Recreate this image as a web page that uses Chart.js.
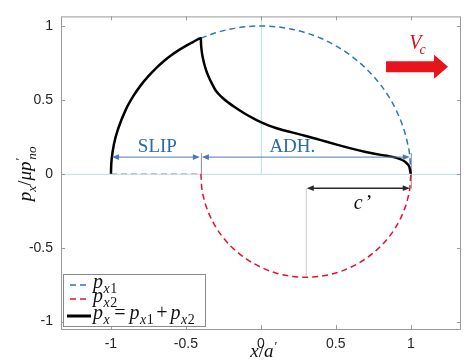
<!DOCTYPE html>
<html>
<head>
<meta charset="utf-8">
<script src="https://cdn.jsdelivr.net/npm/chart.js@4.4.1/dist/chart.umd.min.js"></script>
<style>
html, body { margin: 0; padding: 0; background: #fff; }
#wrap { width: 474px; height: 363px; }
</style>
</head>
<body>
<div id="wrap"><canvas id="chart"></canvas></div>
<script>
// values
const xTicks = [-1, -0.5, 0, 0.5, 1]
const yTicks = [-1, -0.5, 0, 0.5, 1]

// p_x (black): slip part, then adhesion part
const pxX = [-1, -0.998, -0.995, -0.98, -0.95, -0.9, -0.85, -0.8, -0.75, -0.7, -0.65, -0.6, -0.55, -0.5, -0.45, -0.4,
	-0.399, -0.397, -0.393, -0.388, -0.38, -0.37, -0.36, -0.34, -0.32, -0.3, -0.26, -0.22, -0.18, -0.14, -0.1, -0.05, 0,
	0.05, 0.1, 0.15, 0.2, 0.3, 0.4, 0.5, 0.6, 0.7, 0.8, 0.85, 0.885, 0.92, 0.95, 0.977, 0.991, 0.997, 1]
const pxY = [0, 0.06, 0.1, 0.2, 0.31, 0.436, 0.527, 0.6, 0.661, 0.714, 0.76, 0.8, 0.835, 0.866, 0.893, 0.917,
	0.88, 0.853, 0.82, 0.79, 0.753, 0.717, 0.686, 0.638, 0.598, 0.562, 0.518, 0.484, 0.455, 0.428, 0.403, 0.375, 0.35,
	0.328, 0.31, 0.295, 0.282, 0.256, 0.228, 0.199, 0.172, 0.148, 0.128, 0.12, 0.113, 0.103, 0.09, 0.067, 0.045, 0.015, 0]

// p_x1 (blue dashed)
const px1X = [-0.4, -0.3, -0.2, -0.1, 0, 0.1, 0.2, 0.3, 0.4, 0.5, 0.6, 0.7, 0.8, 0.85, 0.9, 0.95, 0.98, 0.995, 1]
const px1Y = [0.917, 0.954, 0.98, 0.995, 1, 0.995, 0.98, 0.954, 0.917, 0.866, 0.8, 0.714, 0.6, 0.527, 0.436, 0.312, 0.199, 0.1, 0]

// p_x2 (red dashed)
const px2X = [-0.4, -0.395, -0.38, -0.35, -0.3, -0.25, -0.2, -0.1, 0, 0.1, 0.2, 0.3, 0.4, 0.5, 0.6, 0.7, 0.8, 0.85, 0.9, 0.95, 0.98, 0.995, 1]
const px2Y = [0, -0.084, -0.166, -0.26, -0.361, -0.433, -0.49, -0.574, -0.632, -0.671, -0.693, -0.7, -0.693, -0.671, -0.632, -0.574, -0.49, -0.433, -0.361, -0.26, -0.166, -0.084, 0]

// grey dashed zero line under the slip zone
const slipZeroX = [-1, -0.4]
const slipZeroY = [0, 0]

const zip = (xs, ys) => xs.map((x, i) => ({ x, y: ys[i] }))

const SERIF = "'Liberation Serif', 'DejaVu Serif', serif"
const SANS = "'Liberation Sans', Arial, sans-serif"

/**
 * draws text made of pieces (italic, subscript, superscript); returns width
 */
function mathText(ctx, parts, x, y, size, draw = true) {
	let cx = x
	parts.forEach((p) => {
		const fs = p.s ? size * 0.7 : size
		ctx.font = `${p.up ? '' : 'italic '}${fs}px ${SERIF}`
		const dy = p.s === 'sub' ? size * 0.25 : p.s === 'sup' ? -size * 0.38 : 0
		cx += p.pre || 0
		if (draw) ctx.fillText(p.t, cx, y + dy)
		cx += ctx.measureText(p.t).width + (p.post || 0)
	})
	return cx - x
}

function arrowHead(ctx, x, y, dir, len, half) {
	ctx.beginPath()
	ctx.moveTo(x, y)
	ctx.lineTo(x - dir * len, y - half)
	ctx.lineTo(x - dir * len, y + half)
	ctx.closePath()
	ctx.fill()
}

function dimArrow(ctx, x1, x2, y, color, width) {
	ctx.strokeStyle = color
	ctx.fillStyle = color
	ctx.lineWidth = width
	ctx.beginPath()
	ctx.moveTo(x1 + 4, y)
	ctx.lineTo(x2 - 4, y)
	ctx.stroke()
	arrowHead(ctx, x1, y, -1, 7, 2.8)
	arrowHead(ctx, x2, y, 1, 7, 2.8)
}

const decorations = {
	id: 'decorations',
	beforeDatasetsDraw(chart) {
		const { ctx, chartArea: a, scales: { x, y } } = chart
		const X = (v) => x.getPixelForValue(v)
		const Y = (v) => y.getPixelForValue(v)
		ctx.save()
		ctx.lineWidth = 1
		// light reference lines
		ctx.strokeStyle = '#bcdce6'
		ctx.beginPath()
		ctx.moveTo(a.left, Y(0) + 0.5)
		ctx.lineTo(a.right, Y(0) + 0.5)
		ctx.moveTo(X(0) + 0.5, a.top)
		ctx.lineTo(X(0) + 0.5, Y(0))
		ctx.stroke()
		ctx.strokeStyle = '#cfcfcf'
		ctx.beginPath()
		ctx.moveTo(X(0.3) + 0.5, Y(-0.1))
		ctx.lineTo(X(0.3) + 0.5, Y(-0.69))
		ctx.stroke()
		ctx.strokeStyle = '#8c8c8c'
		ctx.beginPath()
		ctx.moveTo(X(-0.4) + 0.5, Y(0.14))
		ctx.lineTo(X(-0.4) + 0.5, Y(0))
		ctx.moveTo(X(1) + 0.5, Y(0.14))
		ctx.lineTo(X(1) + 0.5, Y(-0.1))
		ctx.stroke()
		ctx.restore()
	},
	afterDatasetsDraw(chart) {
		const { ctx, chartArea: a, scales: { x, y } } = chart
		const X = (v) => x.getPixelForValue(v)
		const Y = (v) => y.getPixelForValue(v)
		ctx.save()

		// SLIP / ADH. dimension arrows
		const yDim = Y(0.113)
		dimArrow(ctx, X(-1) + 1, X(-0.4) - 1, yDim, '#4a7bb5', 1)
		dimArrow(ctx, X(-0.4) + 1, X(1) - 1, yDim, '#4a7bb5', 1)
		ctx.fillStyle = '#2f6aa6'
		ctx.font = `19px ${SERIF}`
		ctx.textAlign = 'center'
		ctx.textBaseline = 'alphabetic'
		ctx.fillText('SLIP', X(-0.69), Y(0.145))
		ctx.fillText('ADH.', X(0.21), Y(0.145))

		// c' arrow
		dimArrow(ctx, X(0.3) + 1, X(1) - 1, Y(-0.097), '#2a2a2a', 1.5)
		ctx.fillStyle = '#111'
		ctx.textAlign = 'left'
		mathText(ctx, [{ t: 'c' }, { t: '\u2019', up: true, pre: 3 }], X(0.62), Y(-0.235), 20)

		// red V_c arrow
		const ax = X(0.835), ay = Y(0.725)
		ctx.fillStyle = '#e8141c'
		ctx.beginPath()
		ctx.moveTo(ax, ay - 5.5)
		ctx.lineTo(ax + 48, ay - 5.5)
		ctx.lineTo(ax + 48, ay - 12)
		ctx.lineTo(ax + 62, ay)
		ctx.lineTo(ax + 48, ay + 12)
		ctx.lineTo(ax + 48, ay + 5.5)
		ctx.lineTo(ax, ay + 5.5)
		ctx.closePath()
		ctx.fill()
		ctx.fillStyle = '#d8101c'
		mathText(ctx, [{ t: 'V' }, { t: 'c', s: 'sub', pre: -2 }], X(0.99), Y(0.845), 20)

		// axes box with inward ticks
		ctx.strokeStyle = '#9a9a9a'
		ctx.lineWidth = 1
		ctx.strokeRect(a.left + 0.5, a.top + 0.5, a.right - a.left - 1, a.bottom - a.top)
		ctx.beginPath()
		xTicks.forEach((v) => {
			const px = Math.round(X(v)) + 0.5
			ctx.moveTo(px, a.bottom); ctx.lineTo(px, a.bottom - 4)
			ctx.moveTo(px, a.top); ctx.lineTo(px, a.top + 4)
		})
		yTicks.forEach((v) => {
			const py = Math.round(Y(v)) + 0.5
			ctx.moveTo(a.left, py); ctx.lineTo(a.left + 4, py)
			ctx.moveTo(a.right, py); ctx.lineTo(a.right - 4, py)
		})
		ctx.stroke()

		// legend
		const lx = 63, ly = 274, lw = 142, lh = 52
		ctx.fillStyle = '#fff'
		ctx.fillRect(lx, ly, lw, lh)
		ctx.strokeStyle = '#8a8a8a'
		ctx.strokeRect(lx + 0.5, ly + 0.5, lw, lh)
		const sub = (t, up) => ({ t, s: 'sub', up, post: 0.5 })
		const rows = [
			{ color: '#2f77b8', dash: [6, 4], w: 1.5, y: 285, parts: [{ t: 'p', post: 0.5 }, sub('x'), sub('1', true)] },
			{ color: '#e3132b', dash: [6, 4], w: 1.5, y: 299, parts: [{ t: 'p', post: 0.5 }, sub('x'), sub('2', true)] },
			{ color: '#000', dash: [], w: 3, y: 316, parts: [{ t: 'p', post: 0.5 }, sub('x'), { t: '=', up: true, pre: 4, post: 4 }, { t: 'p', post: 0.5 }, sub('x'), sub('1', true), { t: '+', up: true, pre: 2, post: 3 }, { t: 'p', post: 0.5 }, sub('x'), sub('2', true)] }
		]
		rows.forEach((r) => {
			ctx.strokeStyle = r.color
			ctx.lineWidth = r.w
			ctx.setLineDash(r.dash)
			ctx.beginPath()
			const x0 = r.dash.length ? 70 : 67
			ctx.moveTo(x0, r.y)
			ctx.lineTo(r.dash.length ? 88 : 91, r.y)
			ctx.stroke()
			ctx.setLineDash([])
			ctx.fillStyle = '#111'
			mathText(ctx, r.parts, 93, r.y + 3, 20)
		})

		// axis titles
		ctx.fillStyle = '#111'
		const xl = [{ t: 'x' }, { t: '/', up: true }, { t: 'a' }, { t: '\u2032', up: true, s: 'sup', pre: 1 }]
		const xw = mathText(ctx, xl, 0, 0, 19, false)
		mathText(ctx, xl, X(0.02) - xw / 2, 357, 19)
		const yl = [{ t: 'p' }, { t: 'x', s: 'sub' }, { t: '/', up: true }, { t: '\u03bc' }, { t: 'p' }, { t: '\u2032', up: true, s: 'sup', pre: 1 }, { t: 'no', s: 'sub', pre: -2 }]
		const yw = mathText(ctx, yl, 0, 0, 19, false)
		ctx.translate(31, Y(0.0))
		ctx.rotate(-Math.PI / 2)
		mathText(ctx, yl, -yw / 2, 0, 19)
		ctx.restore()
	}
}

const tickFont = { family: SANS, size: 14 }

new Chart(document.getElementById('chart'), {
	type: 'scatter',
	data: {
		datasets: [
			{ label: 'px', data: zip(pxX, pxY), showLine: true, borderColor: '#000', borderWidth: 2.5, pointRadius: 0, cubicInterpolationMode: 'monotone' },
			{ label: 'px1', data: zip(px1X, px1Y), showLine: true, borderColor: '#2f77b8', borderWidth: 1.5, borderDash: [6, 4], pointRadius: 0, cubicInterpolationMode: 'monotone' },
			{ label: 'px2', data: zip(px2X, px2Y), showLine: true, borderColor: '#e3132b', borderWidth: 1.5, borderDash: [6, 4], pointRadius: 0, cubicInterpolationMode: 'monotone' },
			{ label: 'zero', data: zip(slipZeroX, slipZeroY), showLine: true, borderColor: '#c4c4c4', borderWidth: 1.5, borderDash: [6, 4], pointRadius: 0 }
		]
	},
	options: {
		responsive: true,
		maintainAspectRatio: false,
		animation: false,
		devicePixelRatio: 1,
		layout: { padding: { top: 14, right: 13, left: 0, bottom: 0 } },
		plugins: { legend: { display: false }, tooltip: { enabled: false } },
		scales: {
			x: {
				type: 'linear', min: -1.333, max: 1.335,
				grid: { display: false, drawTicks: false },
				border: { display: false },
				ticks: { font: tickFont, color: '#262626', padding: 7, maxRotation: 0, autoSkip: false, callback: (v) => String(v) },
				afterBuildTicks: (s) => { s.ticks = xTicks.map((v) => ({ value: v })) },
				afterFit: (s) => { s.height = 34 }
			},
			y: {
				type: 'linear', min: -1.05, max: 1.065,
				grid: { display: false, drawTicks: false },
				border: { display: false },
				ticks: { font: tickFont, color: '#262626', padding: 8, autoSkip: false, callback: (v) => String(v) },
				afterBuildTicks: (s) => { s.ticks = yTicks.map((v) => ({ value: v })) },
				afterFit: (s) => { s.width = 61 }
			}
		}
	},
	plugins: [decorations]
})
</script>
</body>
</html>
